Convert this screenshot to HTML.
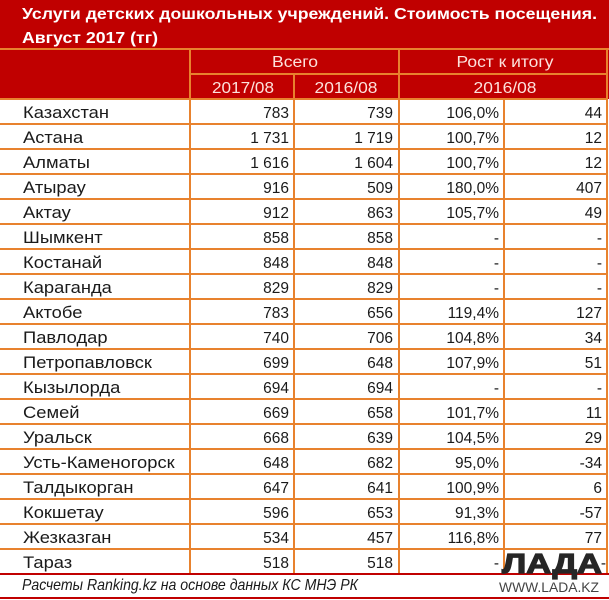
<!DOCTYPE html>
<html>
<head>
<meta charset="utf-8">
<style>
  html, body { margin: 0; padding: 0; background: #fff; }
  svg { display: block; }
  .lbl { font-family: "Liberation Sans", "DejaVu Sans", sans-serif; font-size: 17px; fill: #1a1a1a; }
  .num { font-family: "Liberation Sans", "DejaVu Sans", sans-serif; font-size: 15.5px; fill: #1a1a1a; text-anchor: end; }
  .hdr { font-family: "Liberation Sans", "DejaVu Sans", sans-serif; font-size: 15.5px; fill: #fde2dc; text-anchor: middle; }
  .ttl { font-family: "Liberation Sans", "DejaVu Sans", sans-serif; font-size: 15.5px; font-weight: bold; fill: #ffffff; }
</style>
</head>
<body>
<svg width="609" height="600" viewBox="0 0 609 600" xmlns="http://www.w3.org/2000/svg">
  <rect x="0" y="0" width="609" height="600" fill="#ffffff"/>
  <rect x="0" y="0" width="609" height="99" fill="#c00000"/>

  <text class="ttl" x="22" y="19" textLength="575" lengthAdjust="spacingAndGlyphs">Услуги детских дошкольных учреждений. Стоимость посещения.</text>
  <text class="ttl" x="22" y="43" textLength="136" lengthAdjust="spacingAndGlyphs">Август 2017 (тг)</text>

  <g stroke="#e8822e" stroke-width="2" fill="none">
    <line x1="0" y1="49" x2="609" y2="49"/>
    <line x1="190" y1="74" x2="607" y2="74"/>
    <line x1="190" y1="49" x2="190" y2="99"/>
    <line x1="294" y1="74" x2="294" y2="99"/>
    <line x1="399" y1="49" x2="399" y2="99"/>
    <line x1="607" y1="49" x2="607" y2="99"/>
  </g>

  <text class="hdr" x="295" y="67" textLength="46" lengthAdjust="spacingAndGlyphs">Всего</text>
  <text class="hdr" x="505" y="67" textLength="97" lengthAdjust="spacingAndGlyphs">Рост к итогу</text>
  <text class="hdr" x="243" y="93" textLength="62" lengthAdjust="spacingAndGlyphs">2017/08</text>
  <text class="hdr" x="346" y="93" textLength="63" lengthAdjust="spacingAndGlyphs">2016/08</text>
  <text class="hdr" x="505" y="93" textLength="63" lengthAdjust="spacingAndGlyphs">2016/08</text>

  <g stroke="#e8822e" stroke-width="2" fill="none">
    <line x1="0" y1="99" x2="608" y2="99"/>
    <line x1="0" y1="124" x2="608" y2="124"/>
    <line x1="0" y1="149" x2="608" y2="149"/>
    <line x1="0" y1="174" x2="608" y2="174"/>
    <line x1="0" y1="199" x2="608" y2="199"/>
    <line x1="0" y1="224" x2="608" y2="224"/>
    <line x1="0" y1="249" x2="608" y2="249"/>
    <line x1="0" y1="274" x2="608" y2="274"/>
    <line x1="0" y1="299" x2="608" y2="299"/>
    <line x1="0" y1="324" x2="608" y2="324"/>
    <line x1="0" y1="349" x2="608" y2="349"/>
    <line x1="0" y1="374" x2="608" y2="374"/>
    <line x1="0" y1="399" x2="608" y2="399"/>
    <line x1="0" y1="424" x2="608" y2="424"/>
    <line x1="0" y1="449" x2="608" y2="449"/>
    <line x1="0" y1="474" x2="608" y2="474"/>
    <line x1="0" y1="499" x2="608" y2="499"/>
    <line x1="0" y1="524" x2="608" y2="524"/>
    <line x1="0" y1="549" x2="608" y2="549"/>
    <line x1="190" y1="99" x2="190" y2="574"/>
    <line x1="294" y1="99" x2="294" y2="574"/>
    <line x1="399" y1="99" x2="399" y2="574"/>
    <line x1="504" y1="99" x2="504" y2="574"/>
    <line x1="607" y1="99" x2="607" y2="574"/>
  </g>
  <g stroke="#c00000" stroke-width="2">
    <line x1="0" y1="574" x2="609" y2="574"/>
    <line x1="0" y1="598" x2="609" y2="598"/>
  </g>

  <g>
    <text class="lbl" transform="translate(23,118) scale(1.08,1)">Казахстан</text>
    <text class="num" x="289" y="118">783</text><text class="num" x="393" y="118">739</text><text class="num" x="499" y="118">106,0%</text><text class="num" x="602" y="118">44</text>

    <text class="lbl" transform="translate(23,143) scale(1.08,1)">Астана</text>
    <text class="num" x="289" y="143">1 731</text><text class="num" x="393" y="143">1 719</text><text class="num" x="499" y="143">100,7%</text><text class="num" x="602" y="143">12</text>

    <text class="lbl" transform="translate(23,168) scale(1.08,1)">Алматы</text>
    <text class="num" x="289" y="168">1 616</text><text class="num" x="393" y="168">1 604</text><text class="num" x="499" y="168">100,7%</text><text class="num" x="602" y="168">12</text>

    <text class="lbl" transform="translate(23,193) scale(1.08,1)">Атырау</text>
    <text class="num" x="289" y="193">916</text><text class="num" x="393" y="193">509</text><text class="num" x="499" y="193">180,0%</text><text class="num" x="602" y="193">407</text>

    <text class="lbl" transform="translate(23,218) scale(1.08,1)">Актау</text>
    <text class="num" x="289" y="218">912</text><text class="num" x="393" y="218">863</text><text class="num" x="499" y="218">105,7%</text><text class="num" x="602" y="218">49</text>

    <text class="lbl" transform="translate(23,243) scale(1.08,1)">Шымкент</text>
    <text class="num" x="289" y="243">858</text><text class="num" x="393" y="243">858</text><text class="num" x="499" y="243">-</text><text class="num" x="602" y="243">-</text>

    <text class="lbl" transform="translate(23,268) scale(1.08,1)">Костанай</text>
    <text class="num" x="289" y="268">848</text><text class="num" x="393" y="268">848</text><text class="num" x="499" y="268">-</text><text class="num" x="602" y="268">-</text>

    <text class="lbl" transform="translate(23,293) scale(1.08,1)">Караганда</text>
    <text class="num" x="289" y="293">829</text><text class="num" x="393" y="293">829</text><text class="num" x="499" y="293">-</text><text class="num" x="602" y="293">-</text>

    <text class="lbl" transform="translate(23,318) scale(1.08,1)">Актобе</text>
    <text class="num" x="289" y="318">783</text><text class="num" x="393" y="318">656</text><text class="num" x="499" y="318">119,4%</text><text class="num" x="602" y="318">127</text>

    <text class="lbl" transform="translate(23,343) scale(1.08,1)">Павлодар</text>
    <text class="num" x="289" y="343">740</text><text class="num" x="393" y="343">706</text><text class="num" x="499" y="343">104,8%</text><text class="num" x="602" y="343">34</text>

    <text class="lbl" transform="translate(23,368) scale(1.08,1)">Петропавловск</text>
    <text class="num" x="289" y="368">699</text><text class="num" x="393" y="368">648</text><text class="num" x="499" y="368">107,9%</text><text class="num" x="602" y="368">51</text>

    <text class="lbl" transform="translate(23,393) scale(1.08,1)">Кызылорда</text>
    <text class="num" x="289" y="393">694</text><text class="num" x="393" y="393">694</text><text class="num" x="499" y="393">-</text><text class="num" x="602" y="393">-</text>

    <text class="lbl" transform="translate(23,418) scale(1.08,1)">Семей</text>
    <text class="num" x="289" y="418">669</text><text class="num" x="393" y="418">658</text><text class="num" x="499" y="418">101,7%</text><text class="num" x="602" y="418">11</text>

    <text class="lbl" transform="translate(23,443) scale(1.08,1)">Уральск</text>
    <text class="num" x="289" y="443">668</text><text class="num" x="393" y="443">639</text><text class="num" x="499" y="443">104,5%</text><text class="num" x="602" y="443">29</text>

    <text class="lbl" transform="translate(23,468) scale(1.08,1)">Усть-Каменогорск</text>
    <text class="num" x="289" y="468">648</text><text class="num" x="393" y="468">682</text><text class="num" x="499" y="468">95,0%</text><text class="num" x="602" y="468">-34</text>

    <text class="lbl" transform="translate(23,493) scale(1.08,1)">Талдыкорган</text>
    <text class="num" x="289" y="493">647</text><text class="num" x="393" y="493">641</text><text class="num" x="499" y="493">100,9%</text><text class="num" x="602" y="493">6</text>

    <text class="lbl" transform="translate(23,518) scale(1.08,1)">Кокшетау</text>
    <text class="num" x="289" y="518">596</text><text class="num" x="393" y="518">653</text><text class="num" x="499" y="518">91,3%</text><text class="num" x="602" y="518">-57</text>

    <text class="lbl" transform="translate(23,543) scale(1.08,1)">Жезказган</text>
    <text class="num" x="289" y="543">534</text><text class="num" x="393" y="543">457</text><text class="num" x="499" y="543">116,8%</text><text class="num" x="602" y="543">77</text>

    <text class="lbl" transform="translate(23,568) scale(1.08,1)">Тараз</text>
    <text class="num" x="289" y="568">518</text><text class="num" x="393" y="568">518</text><text class="num" x="499" y="568">-</text><text class="num" x="606" y="568">-</text>
  </g>

  <text x="22" y="590" font-family="Liberation Sans, DejaVu Sans, sans-serif" font-size="16" font-style="italic" fill="#1a1a1a" textLength="336" lengthAdjust="spacingAndGlyphs">Расчеты Ranking.kz на основе данных КС МНЭ РК</text>

  <text x="502" y="573" font-family="Liberation Sans, DejaVu Sans, sans-serif" font-size="28" font-weight="bold" fill="#262626" stroke="#262626" stroke-width="1.2" textLength="100" lengthAdjust="spacingAndGlyphs">ЛАДА</text>
  <text x="499" y="592" font-family="Liberation Sans, DejaVu Sans, sans-serif" font-size="14" fill="#444444" textLength="100" lengthAdjust="spacingAndGlyphs">WWW.LADA.KZ</text>
</svg>
</body>
</html>
